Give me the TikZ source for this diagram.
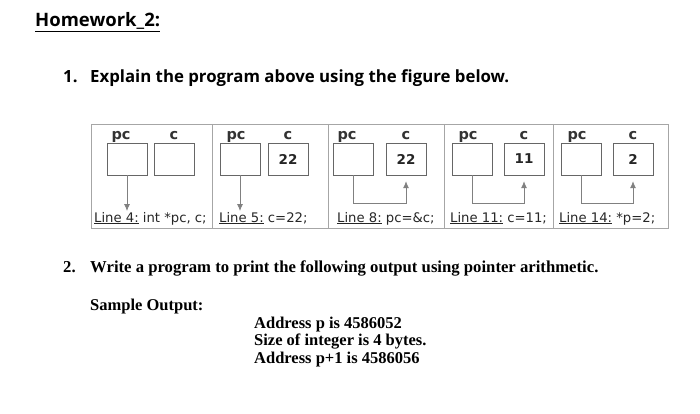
\documentclass[tikz,border=0pt]{standalone}
\usepackage{fontspec}
\setmainfont{Liberation Serif}
\newfontfamily\headfont{Open Sans}
\newfontfamily\figfont{DejaVu Sans}
\usetikzlibrary{arrows.meta,shapes}

\begin{document}
\begin{tikzpicture}[x=1pt, y=-1pt]
	\tikzstyle{cell} = [draw=gray!80!black, minimum width=40pt, minimum height=32pt, inner sep=0pt, font=\figfont\fontsize{13.5}{13.5}\selectfont\bfseries, text=black!85]
	\tikzstyle{varname} = [anchor=base, inner sep=0pt, font=\figfont\fontsize{14.5}{14.5}\selectfont\bfseries, text=black!80]
	\tikzstyle{caption} = [anchor=base west, inner sep=0pt, font=\figfont\fontsize{13.2}{13.2}\selectfont, text=black!85]
	\tikzstyle{head} = [anchor=base west, inner sep=0pt, font=\headfont\bfseries\fontsize{16.8}{16.8}\selectfont]
	\tikzstyle{body} = [anchor=base west, inner sep=0pt, font=\bfseries\fontsize{16.5}{16.5}\selectfont]
	\useasboundingbox (0,0) rectangle (700,414);
	% heading and question 1
	\node[head, font=\headfont\bfseries\fontsize{18.5}{18.5}\selectfont] (title) at (35,27) {\underline{Homework\_2:}};
	\node[head] (q1num) at (63,83) {1.};
	\node[head] (q1) at (90,83) {Explain the program above using the figure below.};
	% figure frame
	\draw[gray!70] (91,124) rectangle (668,228);
	\foreach \x in {212, 328, 444, 553}
		\draw[gray!70] (\x,124) -- (\x,228);
	% memory cells
	\node[cell] (pca) at (127,159) {};
	\node[cell] (ca) at (174,159) {};
	\node[cell] (pcb) at (240,159) {};
	\node[cell] (cb) at (288,159) {22};
	\node[cell] (pcc) at (353,159) {};
	\node[cell] (cc) at (406,159) {22};
	\node[cell] (pcd) at (472,159) {};
	\node[cell] (cd) at (524,159) {11};
	\node[cell] (pce) at (581,159) {};
	\node[cell] (ce) at (633,159) {2};
	\foreach \n/\dx in {a/-6, b/-4, c/-6, d/-4, e/-4}
	{
		\node[varname] (lpc\n) at ([xshift=\dx pt, yshift=3pt]pc\n.north) {pc};
		\node[varname] (lc\n) at ([yshift=3pt]c\n.north) {c};
	}
	% pointer arrows
	\coordinate (enda) at (127,211);
	\coordinate (endb) at (240,211);
	\tikzset{>={Latex[length=7pt,width=6pt]}}
	\foreach \from/\to in {pca/enda, pcb/endb}
		\draw[->, gray, thick] (\from) -- (\to);
	\foreach \n in {c, d, e}
		\draw[->, gray, thick, shorten >=6pt] (pc\n.south) -- ++(0,28) -| (c\n.south);
	% captions
	\node[caption] (capa) at (94,222) {\underline{Line 4:} int *pc, c;};
	\node[caption] (capb) at (219,222) {\underline{Line 5:} c=22;};
	\node[caption] (capc) at (337,222) {\underline{Line 8:} pc=\&c;};
	\node[caption] (capd) at (450,222) {\underline{Line 11:} c=11;};
	\node[caption] (cape) at (559,222) {\underline{Line 14:} *p=2;};
	% question 2
	\node[body, font=\bfseries\fontsize{16.7}{16.7}\selectfont] (q2num) at (63,272) {2.};
	\node[body, font=\bfseries\fontsize{16.7}{16.7}\selectfont] (q2) at (90,272) {Write a program to print the following output using pointer arithmetic.};
	\node[body] (sample) at (90,310) {Sample Output:};
	\node[body] (outa) at (254,328) {Address p is 4586052};
	\node[body] (outb) at (254,345.5) {Size of integer is 4 bytes.};
	\node[body] (outc) at (254,363) {Address p+1 is 4586056};
\end{tikzpicture}
\end{document}
